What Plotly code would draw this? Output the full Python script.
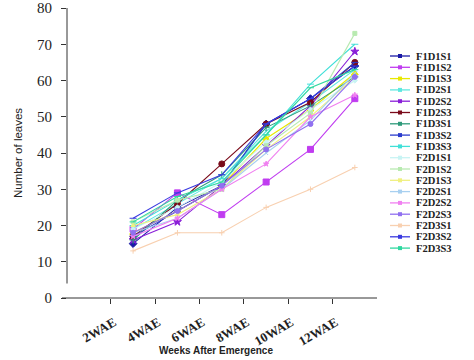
import plotly.graph_objects as go

weeks = ["2WAE", "4WAE", "6WAE", "8WAE", "10WAE", "12WAE"]
week_pos = [1, 2, 3, 4, 5, 6]
tick_pos = [0.5, 1.5, 2.5, 3.5, 4.5, 5.5]
y_ticks = [0, 10, 20, 30, 40, 50, 60, 70, 80]

names = ["F1D1S1", "F1D1S2", "F1D1S3", "F1D2S1", "F1D2S2", "F1D2S3",
         "F1D3S1", "F1D3S2", "F1D3S3", "F2D1S1", "F2D1S2", "F2D1S3",
         "F2D2S1", "F2D2S2", "F2D2S3", "F2D3S1", "F2D3S2", "F2D3S3"]

F1D1S1 = [15, 25, 31, 48, 55, 64]
F1D1S2 = [19, 29, 23, 32, 41, 55]
F1D1S3 = [18, 24, 31, 44, 52, 62]
F1D2S1 = [19, 26, 33, 46, 54, 63]
F1D2S2 = [16, 21, 31, 42, 53, 68]
F1D2S3 = [17, 26, 37, 48, 54, 65]
F1D3S1 = [16, 27, 34, 47, 53, 61]
F1D3S2 = [17, 24, 31, 48, 55, 65]
F1D3S3 = [20, 27, 33, 45, 59, 70]
F2D1S1 = [19, 25, 32, 43, 52, 60]
F2D1S2 = [21, 27, 30, 42, 51, 73]
F2D1S3 = [20, 23, 30, 41, 50, 61]
F2D2S1 = [18, 22, 30, 40, 49, 62]
F2D2S2 = [17, 22, 30, 37, 50, 56]
F2D2S3 = [18, 24, 31, 41, 48, 61]
F2D3S1 = [13, 18, 18, 25, 30, 36]
F2D3S2 = [22, 29, 34, 48, 55, 64]
F2D3S3 = [21, 28, 32, 45, 58, 63]

series = [F1D1S1, F1D1S2, F1D1S3, F1D2S1, F1D2S2, F1D2S3, F1D3S1, F1D3S2, F1D3S3,
          F2D1S1, F2D1S2, F2D1S3, F2D2S1, F2D2S2, F2D2S3, F2D3S1, F2D3S2, F2D3S3]

colors = ["#1a1aa6", "#c03cf0", "#e8e800", "#5fe8e0", "#8a1fd8", "#7a0a1a",
          "#2e9a7a", "#2b3ccc", "#40e0d8", "#c8f4f4", "#b8eab0", "#f0f080",
          "#a8d0f0", "#f080f0", "#9070f0", "#f8d0b0", "#3a3ae0", "#30d8a0"]
symbols = ["diamond", "square", "triangle-up", "x-thin-open", "star", "circle",
           "cross-thin-open", "line-ew-open", "line-ew-open",
           "diamond", "square", "triangle-up", "x-thin-open", "star", "circle",
           "cross-thin-open", "line-ew-open", "line-ew-open"]
msizes = [6, 6, 6, 5, 6, 6, 5, 5, 5, 4, 4, 4, 4, 4, 5, 4, 5, 5]

fig = go.Figure()
for nm, vals, c, s, ms in zip(names, series, colors, symbols, msizes):
    fig.add_trace(go.Scatter(
        x=week_pos, y=vals, name=nm, mode="lines+markers",
        line=dict(color=c, width=1.1),
        marker=dict(symbol=s, size=ms, color=c, line=dict(color=c, width=1)),
        showlegend=False))

# layout geometry (pixels)
W, H = 474, 360
L, R, T, B = 67, 97, 8, 62
pw, ph = W - L - R, H - T - B

def px(x):
    return (x - L) / pw

def py(y):
    return (H - B - y) / ph

shapes = []
annotations = []

# y-axis line (stops short of the x-axis as in the reference)
shapes.append(dict(type="line", xref="paper", yref="y", x0=0, x1=0, y0=4, y1=80,
                   line=dict(color="#333333", width=1)))
# x-axis line extends a little left of the y axis
shapes.append(dict(type="line", xref="paper", yref="paper", x0=px(62), x1=px(377),
                   y0=0, y1=0, line=dict(color="#333333", width=1)))

# manual compact legend
top_y, step = 56, 11.3
for i, (nm, c) in enumerate(zip(names, colors)):
    yy = top_y + i * step
    shapes.append(dict(type="line", xref="paper", yref="paper",
                       x0=px(390), x1=px(410), y0=py(yy), y1=py(yy),
                       line=dict(color=c, width=1.3)))
    shapes.append(dict(type="rect", xref="paper", yref="paper",
                       x0=px(398), x1=px(402), y0=py(yy - 2), y1=py(yy + 2),
                       fillcolor=c, line=dict(width=0)))
    annotations.append(dict(text="<b>%s</b>" % nm, xref="paper", yref="paper",
                            x=px(414), y=py(yy), xanchor="left", yanchor="middle",
                            showarrow=False,
                            font=dict(family="Liberation Serif", size=10.5, color="#222222")))

annotations.append(dict(text="Number of leaves", xref="paper", yref="paper",
                        x=px(18), y=py(153), textangle=-90, showarrow=False,
                        xanchor="center", yanchor="middle",
                        font=dict(family="Liberation Sans Narrow, Liberation Sans", size=11.5, color="#222222")))
annotations.append(dict(text="<b>Weeks After Emergence</b>", xref="paper", yref="paper",
                        x=px(216), y=py(350), showarrow=False,
                        xanchor="center", yanchor="middle",
                        font=dict(family="Liberation Sans", size=10, color="#222222")))

fig.update_layout(
    width=W, height=H,
    margin=dict(l=L, r=R, t=T, b=B, autoexpand=False),
    plot_bgcolor="white", paper_bgcolor="white",
    shapes=shapes, annotations=annotations,
    xaxis=dict(range=[-0.49, 6.5], tickvals=tick_pos,
               ticktext=["<b>%s</b>" % w for w in weeks],
               tickangle=-30, ticks="outside", ticklen=5, tickcolor="#333333",
               ticklabelstandoff=6, ticklabelshift=3,
               showgrid=False, zeroline=False, showline=False, automargin=False,
               tickfont=dict(family="Liberation Serif", size=13, color="#222222")),
    yaxis=dict(range=[0, 80], tickvals=y_ticks, ticks="outside", ticklen=5,
               tickcolor="#333333", showgrid=False, zeroline=False, showline=False,
               automargin=False, ticklabelstandoff=6,
               tickfont=dict(family="Liberation Serif", size=15, color="#222222")),
)

fig.write_html("out.html", config={"displayModeBar": False},
               post_script="document.body.style.margin='0';document.body.style.padding='0';")
